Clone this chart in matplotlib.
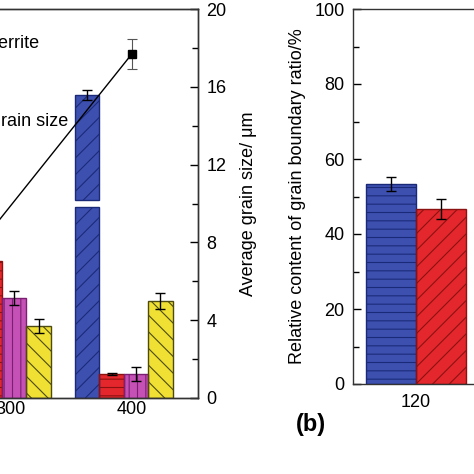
import matplotlib.pyplot as plt
import numpy as np
from matplotlib.ticker import MultipleLocator

plt.rcParams['font.family'] = ['Liberation Sans', 'DejaVu Sans']
plt.rcParams['hatch.linewidth'] = 0.8
plt.rcParams['axes.linewidth'] = 1.0
plt.rcParams['axes.edgecolor'] = '#333333'

# ---- panel (a): phase content (left axis, %) and grain size (right axis, um)
groups_a = ['300', '400']
blue_a = [np.nan, 77.9]
blue_a_err = [0.0, 1.2]
red_a = [35.2, 6.2]
red_a_err = [1.5, 0.3]
mag_a = [25.7, 6.2]
mag_a_err = [1.9, 1.8]
yel_a = [18.5, 24.9]
yel_a_err = [1.8, 2.1]
break_lo, break_hi = 49.1, 50.9

gs_temps = ['200', '400']
gs_size = [2.0, 17.7]
gs_err = [0.5, 0.77]

# ---- panel (b): relative content of grain boundary ratio
groups_b = ['120']
blue_b = [53.3]
blue_b_err = [1.9]
red_b = [46.7]
red_b_err = [2.7]

styles = {
    'blue': ('#3d50b0', '#1b2a78', '//'),
    'red': ('#e3272c', '#8c1212', '--'),
    'mag': ('#c551b6', '#7b1f72', '||'),
    'yel': ('#efe033', '#4d4a12', '\\\\'),
}


def hbar(ax, x, h, w, key, bottom=0.0):
    face, dark, hatch = styles[key]
    ax.bar(x, h, w, bottom=bottom, color=face, edgecolor=dark, lw=0,
           hatch=hatch, zorder=2)
    ax.bar(x, h, w, bottom=bottom, fill=False, edgecolor=dark, lw=1.0,
           zorder=3)


fig = plt.figure(figsize=(4.74, 4.74), dpi=100)

ax = fig.add_axes([-185 / 474, 1 - 398 / 474, 383 / 474, 389 / 474])
xa = np.arange(len(groups_a)) + 1.0
w = 0.2
offs = {'blue': -0.367, 'red': -0.167, 'mag': 0.033, 'yel': 0.233}
for i, x in enumerate(xa):
    v = blue_a[i]
    if not np.isnan(v):
        if v > break_hi:
            hbar(ax, x + offs['blue'], break_lo, w, 'blue')
            hbar(ax, x + offs['blue'], v - break_hi, w, 'blue', bottom=break_hi)
        else:
            hbar(ax, x + offs['blue'], v, w, 'blue')
    hbar(ax, x + offs['red'], red_a[i], w, 'red')
    hbar(ax, x + offs['mag'], mag_a[i], w, 'mag')
    hbar(ax, x + offs['yel'], yel_a[i], w, 'yel')

ekw = dict(fmt='none', ecolor='black', elinewidth=1, capsize=3.5, capthick=1, zorder=4)
ax.errorbar(xa + offs['blue'], blue_a, yerr=blue_a_err, **ekw)
ax.errorbar(xa + offs['red'], red_a, yerr=red_a_err, **ekw)
ax.errorbar(xa + offs['mag'], mag_a, yerr=mag_a_err, **ekw)
ax.errorbar(xa + offs['yel'], yel_a, yerr=yel_a_err, **ekw)

ax.set_xlim(-0.6, 2.541)
ax.set_ylim(0, 100)
ax.set_xticks(xa)
ax.set_xticklabels(groups_a, fontsize=13)
ax.tick_params(axis='x', length=0, pad=2)
ax.tick_params(axis='y', left=False, labelleft=False)

ax2 = ax.twinx()
ax2.errorbar([0, 2], gs_size, yerr=gs_err, color='black', lw=1, marker='s',
             ms=6, ecolor='#555555', elinewidth=0.8, capsize=3.5, capthick=0.8)
ax2.set_ylim(0, 20)
ax2.yaxis.set_major_locator(MultipleLocator(4))
ax2.yaxis.set_minor_locator(MultipleLocator(2))
ax2.tick_params(axis='y', which='major', direction='in', length=6, width=1,
                labelsize=13, pad=6)
ax2.tick_params(axis='y', which='minor', direction='in', length=4, width=1)
ax2.set_ylabel('Average grain size/ \u03bcm', fontsize=13, labelpad=10)

fig.text(40 / 474, 1 - 44 / 474, 'Ferrite', ha='right', va='center', fontsize=13)
fig.text(68 / 474, 1 - 121 / 474, 'Grain size', ha='right', va='center', fontsize=13)

# ---- panel (b)
bx = fig.add_axes([353 / 474, 1 - 384 / 474, 188 / 474, 375 / 474])
xb = np.arange(len(groups_b)) * 1.0
hbar(bx, xb - 0.1, blue_b, 0.2, 'blue')
bx.patches[-2].set_hatch('--')
hbar(bx, xb + 0.1, red_b, 0.2, 'red')
bx.patches[-2].set_hatch('//')
bx.errorbar(xb - 0.1, blue_b, yerr=blue_b_err, **ekw)
bx.errorbar(xb + 0.1, red_b, yerr=red_b_err, **ekw)
bx.set_xlim(-0.252, 0.5)
bx.set_ylim(0, 100)
bx.set_xticks(xb)
bx.set_xticklabels(groups_b, fontsize=13)
bx.tick_params(axis='x', length=0, pad=7)
bx.yaxis.set_major_locator(MultipleLocator(20))
bx.yaxis.set_minor_locator(MultipleLocator(10))
bx.tick_params(axis='y', which='major', direction='in', length=6, width=1,
               labelsize=13, pad=6)
bx.tick_params(axis='y', which='minor', direction='in', length=4, width=1)
bx.set_ylabel('Relative content of grain boundary ratio/%', fontsize=13, labelpad=6)

fig.text(311 / 474, 1 - 425 / 474, '(b)', ha='center', va='center',
         fontsize=17, fontweight='bold')

fig.savefig('out.png', dpi=100)
